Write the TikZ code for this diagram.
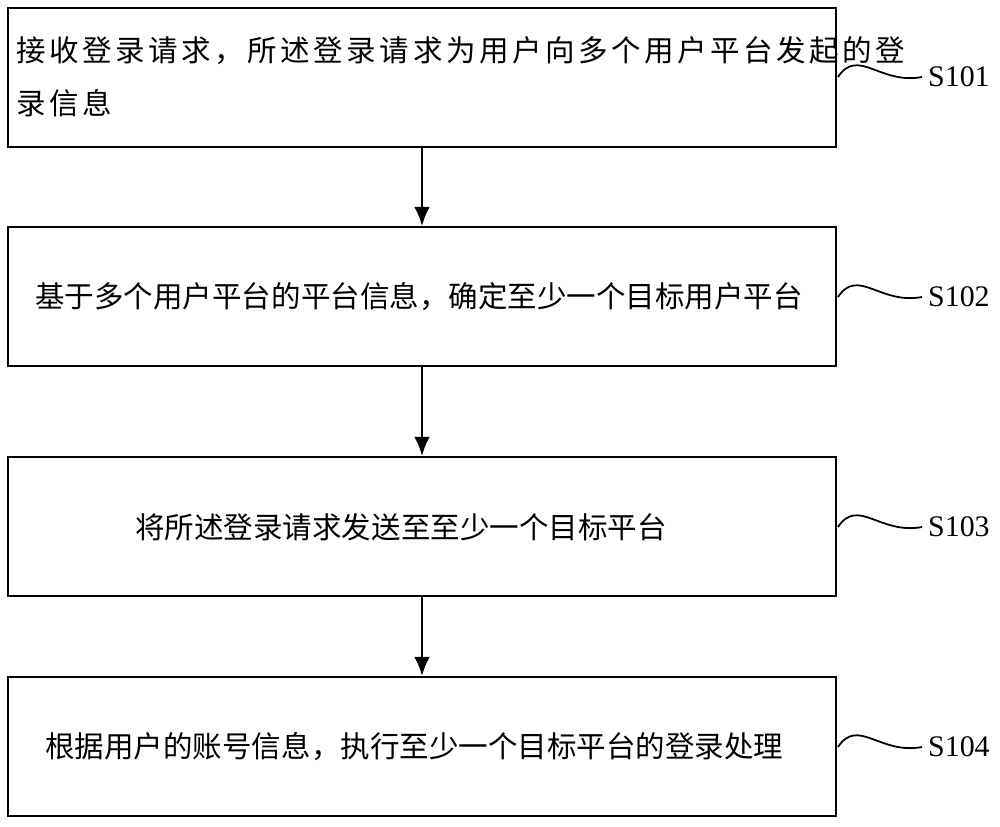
\documentclass[tikz,border=0pt]{standalone}
\usepackage{fontspec}
\newfontfamily\cjk{Noto Sans CJK SC}
\newfontfamily\cjkwide[LetterSpace=12]{Noto Sans CJK SC}
\setmainfont{Liberation Serif}
\usetikzlibrary{positioning,arrows.meta}
\tikzset{
  stepbox/.style={draw,line width=1pt,minimum width=16.56cm,minimum height=2.78cm},
  steptext/.style={anchor=west,inner sep=0pt,align=left,font=\cjk\fontsize{16.8}{28}\selectfont},
  flow/.style={->,>={Latex[length=11pt,width=9pt]},line width=1.5pt},
  tag/.style={font=\fontsize{17}{17}\selectfont,anchor=west}
}
\begin{document}
\begin{tikzpicture}[x=0.02cm,y=-0.02cm]
  \useasboundingbox (0,0) rectangle (1000,827);
  % steps
  \node[stepbox] (s1) at (422,77.5) {};
  \node[stepbox] (s2) at (422,296.5) {};
  \node[stepbox] (s3) at (422,526.5) {};
  \node[stepbox] (s4) at (422,746.5) {};
  % texts
  \node[steptext,font=\cjkwide\fontsize{16.8}{30}\selectfont] (t1) at (16,77)
    {接收登录请求，所述登录请求为用户向多个用户平台发起的登\\录信息};
  \node[steptext] (t2) at (35,297)
    {基于多个用户平台的平台信息，确定至少一个目标用户平台};
  \node[steptext] (t3) at (135,527)
    {将所述登录请求发送至至少一个目标平台};
  \node[steptext] (t4) at (45,747)
    {根据用户的账号信息，执行至少一个目标平台的登录处理};
  % edges
  \draw[flow] (s1) -- (s2);
  \draw[flow] (s2) -- (s3);
  \draw[flow] (s3) -- (s4);
  % labels
  \foreach \n/\y in {1/77,2/297,3/527,4/747} {
    \node[tag] (l\n) at (922,\y) {S10\n};
    \coordinate (w\n) at (838,\y);
    \draw[line width=1pt] (w\n) .. controls (858,\y-30) and (880,\y+8) .. (l\n.west);
  }
\end{tikzpicture}
\end{document}
